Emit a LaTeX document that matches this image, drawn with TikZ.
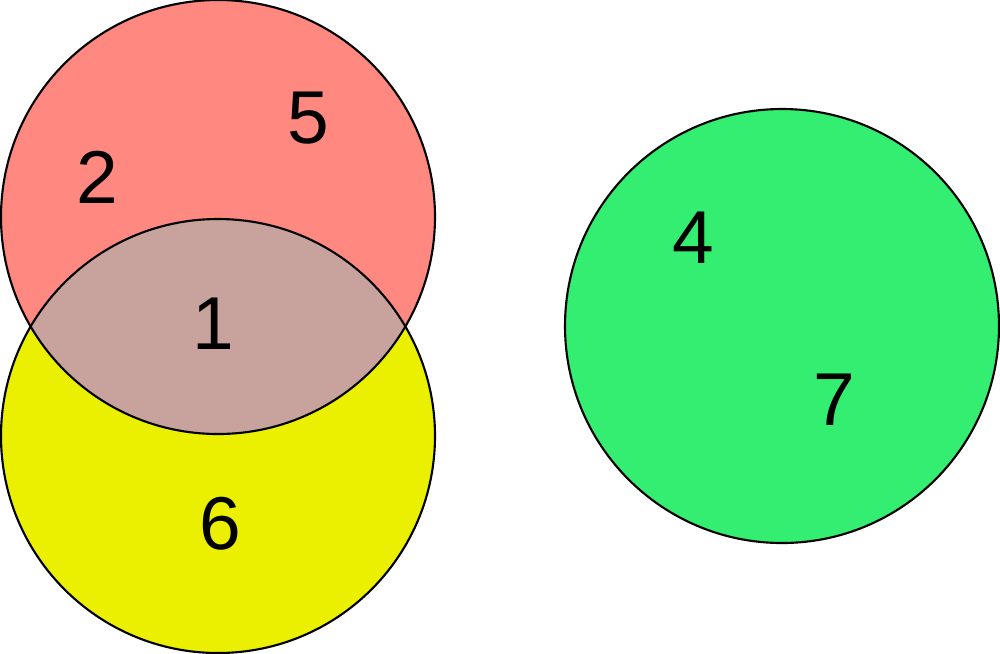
\documentclass[tikz,border=0pt]{standalone}
\usepackage{fontspec}
\setmainfont{Liberation Sans}
\definecolor{setred}{RGB}{255,136,128}
\definecolor{setyellow}{RGB}{235,240,0}
\definecolor{setgreen}{RGB}{51,238,112}
\definecolor{setboth}{RGB}{200,162,157}
\begin{document}
\begin{tikzpicture}[x=0.01cm,y=0.01cm,
  elem/.style={inner sep=0pt,font=\fontsize{21.3}{24}\selectfont}]
 	\useasboundingbox (0,0) rectangle (1000,653);
 	\fill[setred] (218,436) circle (217);
 	\fill[setyellow] (218,217) circle (217);
 	\begin{scope}
 	\clip (218,436) circle (217);
 	\fill[setboth] (218,217) circle (217);
 	\end{scope}
 	\fill[setgreen] (782,327) circle (217);
 	\draw[line width=0.6pt] (218,436) circle (217);
 	\draw[line width=0.6pt] (218,217) circle (217);
 	\draw[line width=0.6pt] (782,327) circle (217);
 	\node[elem] (two) at (97,476) {2};
 	\node[elem] (five) at (308,535) {5};
 	\node[elem] (one) at (213,329) {1};
 	\node[elem] (six) at (220,129) {6};
 	\node[elem] (four) at (693,415) {4};
 	\node[elem] (seven) at (834,253) {7};
\end{tikzpicture}
\end{document}
